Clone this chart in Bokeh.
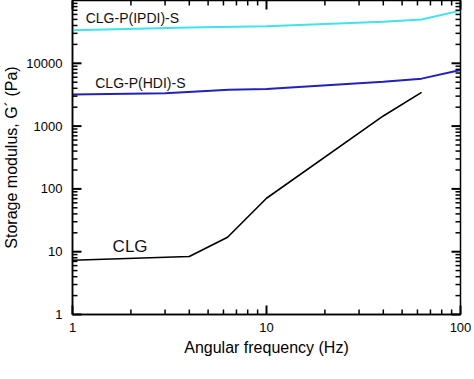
import math
from bokeh.plotting import figure
from bokeh.models import FixedTicker, NumeralTickFormatter, Label, Range1d
from bokeh.embed import file_html
from bokeh.resources import INLINE

freq_ipdi = [1, 4, 10, 40, 63, 100]
g_ipdi = [33500, 37000, 39000, 46000, 50000, 69000]

freq_hdi = [1, 3, 6.4, 10, 40, 63, 100]
g_hdi = [3200, 3350, 3800, 3900, 5100, 5700, 7800]

freq_clg = [1, 4, 6.3, 10, 40, 63]
g_clg = [7.3, 8.4, 17, 71, 1450, 3450]

x_ticks = [1, 10, 100]
y_ticks = [1, 10, 100, 1000, 10000]
x_minor = [m * d for d in (1, 10) for m in range(2, 10)]
y_minor = [m * d for d in (1, 10, 100, 1000, 10000) for m in range(2, 10)]

X0, X1 = 1, 100
Y0, Y1 = 1, 100000
FW, FH = 388, 314

FONT = "Liberation Sans"

p = figure(frame_width=FW, frame_height=FH, x_axis_type="log", y_axis_type="log",
           x_range=Range1d(X0, X1), y_range=Range1d(Y0, Y1),
           output_backend="svg", toolbar_location=None,
           min_border_left=0, min_border_right=11, min_border_top=0,
           min_border_bottom=0)
p.grid.visible = False
p.outline_line_color = "black"
p.outline_line_width = 1.5
p.background_fill_color = "white"
p.border_fill_color = "white"

for ax, ticks in ((p.xaxis[0], x_ticks), (p.yaxis[0], y_ticks)):
    ax.ticker = FixedTicker(ticks=ticks)
    ax.major_tick_in = 0
    ax.major_tick_out = 0
    ax.minor_tick_in = 0
    ax.minor_tick_out = 0
    ax.axis_line_color = "black"
    ax.axis_line_width = 1.5
    ax.formatter = NumeralTickFormatter(format="0")
    ax.major_label_text_font = FONT
    ax.major_label_text_font_size = "13px"
    ax.major_label_text_color = "black"
    ax.axis_label_text_font = FONT
    ax.axis_label_text_font_size = "16px"
    ax.axis_label_text_font_style = "normal"
    ax.axis_label_text_color = "black"

p.xaxis.axis_label = "Angular frequency (Hz)"
p.yaxis.axis_label = "Storage modulus, G´ (Pa)"
p.xaxis.major_label_standoff = 8
p.xaxis.axis_label_standoff = 4
p.yaxis.major_label_standoff = 10
p.yaxis.axis_label_standoff = 3

# inward tick marks on all four sides, as short segments (pixel length -> log factor)
px_per_dec_x = FW / math.log10(X1 / X0)
px_per_dec_y = FH / math.log10(Y1 / Y0)
for vals, length, lw in ((x_ticks, 9, 2), (x_minor, 5, 1.5)):
    f = 10 ** (length / px_per_dec_y)
    p.segment(x0=vals, y0=[Y0] * len(vals), x1=vals, y1=[Y0 * f] * len(vals),
              line_color="#000000", line_width=lw, level="overlay")
    p.segment(x0=vals, y0=[Y1 / f] * len(vals), x1=vals, y1=[Y1] * len(vals),
              line_color="#000000", line_width=lw, level="overlay")
for vals, length, lw in ((y_ticks, 9, 2), (y_minor, 5, 1.5)):
    f = 10 ** (length / px_per_dec_x)
    p.segment(x0=[X0] * len(vals), y0=vals, x1=[X0 * f] * len(vals), y1=vals,
              line_color="#000000", line_width=lw, level="overlay")
    p.segment(x0=[X1 / f] * len(vals), y0=vals, x1=[X1] * len(vals), y1=vals,
              line_color="#000000", line_width=lw, level="overlay")

p.line(freq_ipdi, g_ipdi, line_color="#3fe3ee", line_width=2)
p.line(freq_hdi, g_hdi, line_color="#2222bb", line_width=2)
p.line(freq_clg, g_clg, line_color="black", line_width=1.6)

for txt, x, y, size in [("CLG-P(IPDI)-S", 1.17, 53000, "14px"),
                        ("CLG-P(HDI)-S", 1.31, 4900, "14px"),
                        ("CLG", 1.61, 12, "17px")]:
    p.add_layout(Label(x=x, y=y, text=txt, text_font=FONT, text_font_size=size,
                       text_baseline="middle", text_align="left", text_color="#111111"))

open("out.html", "w").write(file_html(p, INLINE))
